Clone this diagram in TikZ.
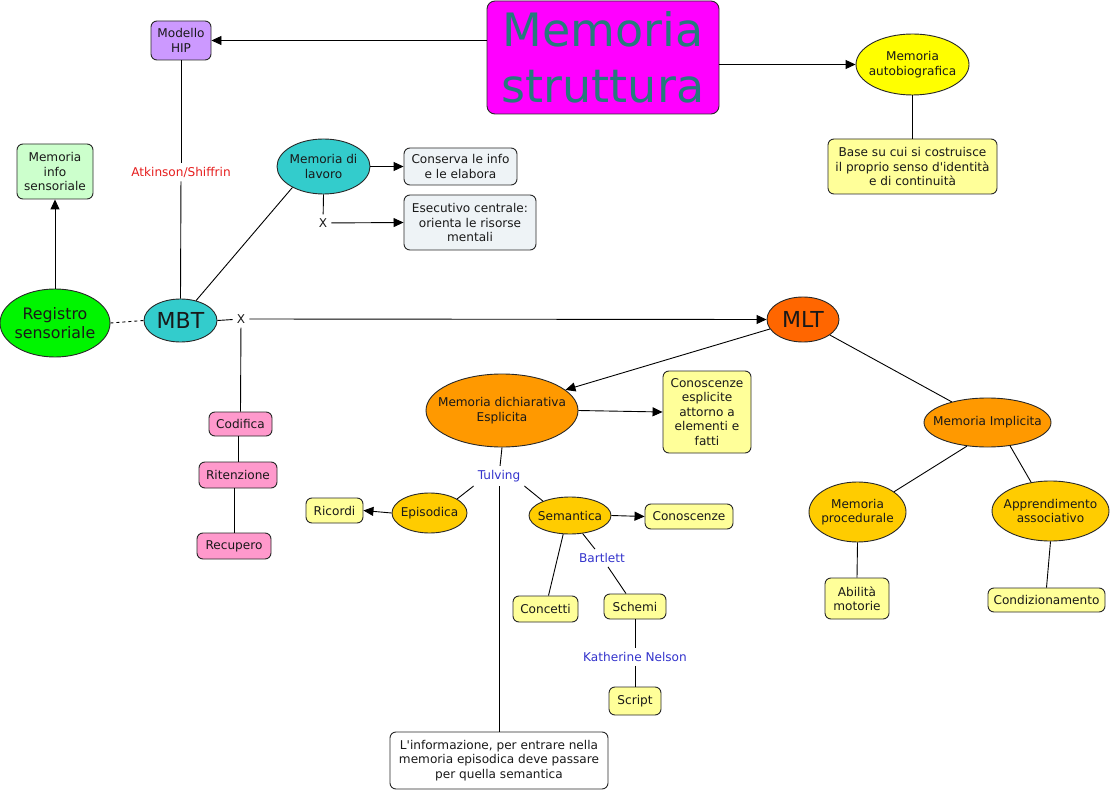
\documentclass[tikz,border=0pt]{standalone}
\usepackage{fontspec}
\setmainfont{DejaVu Sans}[Ligatures=TeXOff]
\usetikzlibrary{shapes.geometric,arrows.meta}
\definecolor{bord}{RGB}{40,40,40}
\definecolor{txtc}{RGB}{25,25,25}
\definecolor{titlec}{RGB}{38,122,124}
\definecolor{cmag}{RGB}{255,0,255}
\definecolor{chip}{RGB}{204,153,255}
\definecolor{cyel}{RGB}{255,255,0}
\definecolor{clyel}{RGB}{255,255,153}
\definecolor{clgreen}{RGB}{204,255,204}
\definecolor{cgreen}{RGB}{0,245,0}
\definecolor{cteal}{RGB}{51,204,204}
\definecolor{cgrey}{RGB}{238,243,246}
\definecolor{cpink}{RGB}{255,153,204}
\definecolor{cmlt}{RGB}{255,102,0}
\definecolor{corange}{RGB}{255,153,0}
\definecolor{cgold}{RGB}{255,204,0}
\definecolor{cred}{RGB}{230,30,30}
\definecolor{cblue}{RGB}{51,51,204}
\newcommand{\dfnt}{\fontsize{12.1}{14.5}\selectfont}
\newcommand{\ovnode}[7][\dfnt]{%
  \node[ov,fill=#6,minimum width=#4pt,minimum height=#5pt] (#2) at (#3) {};
  \node[txt,font=#1] (#2t) at (#2) {#7};}
\begin{document}
\begin{tikzpicture}[x=1pt,y=-1pt,
  box/.style={draw=bord,line width=0.9pt,rounded corners=6pt,inner sep=0pt,align=center,font=\dfnt,text=txtc},
  ov/.style={ellipse,draw=bord,line width=0.9pt,inner sep=0pt},
  txt/.style={align=center,text=txtc,inner sep=0pt},
  lbl/.style={font=\dfnt,inner sep=4pt},
  con/.style={line width=0.9pt,draw=black},
  arr/.style={con,-{Triangle[length=10pt,width=9pt]}}]
\fill[white] (0,0) rectangle (1113,791);
\useasboundingbox (0,0) rectangle (1113,791);
% boxes
\node[box,fill=cmag,minimum width=232pt,minimum height=113pt,rounded corners=8pt,
      font=\fontsize{46}{56}\selectfont,text=titlec] (title) at (603,57.5) {Memoria\\struttura};
\node[box,fill=chip,minimum width=60pt,minimum height=39pt] (hip) at (181,40.5) {Modello\\HIP};
\node[box,fill=clyel,minimum width=169pt,minimum height=55pt] (base) at (912.5,166.5) {Base su cui si costruisce\\il proprio senso d'identità\\e di continuità};
\node[box,fill=clgreen,minimum width=76pt,minimum height=55pt] (infos) at (55,171.5) {Memoria\\info\\sensoriale};
\node[box,fill=cgrey,minimum width=113pt,minimum height=37pt] (conserva) at (460.5,166.5) {Conserva le info\\e le elabora};
\node[box,fill=cgrey,minimum width=132pt,minimum height=55pt] (esec) at (470,222.5) {Esecutivo centrale:\\orienta le risorse\\mentali};
\node[box,fill=cpink,minimum width=63pt,minimum height=24pt] (codifica) at (240.5,424) {Codifica};
\node[box,fill=cpink,minimum width=78pt,minimum height=26pt] (ritenzione) at (238,475) {Ritenzione};
\node[box,fill=cpink,minimum width=74pt,minimum height=26pt] (recupero) at (234,546) {Recupero};
\node[box,fill=clyel,minimum width=88pt,minimum height=82pt] (conesp) at (707,412) {Conoscenze\\esplicite\\attorno a\\elementi e\\fatti};
\node[box,fill=clyel,minimum width=57pt,minimum height=25pt] (ricordi) at (334.5,510.5) {Ricordi};
\node[box,fill=clyel,minimum width=88pt,minimum height=25pt] (conosc) at (689,516.5) {Conoscenze};
\node[box,fill=clyel,minimum width=65pt,minimum height=26pt] (concetti) at (545.5,609) {Concetti};
\node[box,fill=clyel,minimum width=62pt,minimum height=25pt] (schemi) at (635,606.5) {Schemi};
\node[box,fill=clyel,minimum width=52pt,minimum height=28pt] (script) at (635,701) {Script};
\node[box,fill=white,minimum width=218pt,minimum height=57pt] (infobox) at (499,760.5) {L'informazione, per entrare nella\\memoria episodica deve passare\\per quella semantica};
\node[box,fill=clyel,minimum width=64pt,minimum height=41pt] (abilita) at (857,598.5) {Abilità\\motorie};
\node[box,fill=clyel,minimum width=117pt,minimum height=24pt] (condiz) at (1046.5,600) {Condizionamento};
% ovals
\ovnode{auto}{912.5,64.5}{113}{61}{cyel}{Memoria\\autobiografica}
\ovnode[\fontsize{15.8}{19}\selectfont]{reg}{55,323}{110}{68}{cgreen}{Registro\\sensoriale}
\ovnode[\fontsize{22}{26}\selectfont]{mbt}{180.5,320.5}{73}{43}{cteal}{MBT}
\ovnode{lavoro}{323.5,166.5}{93}{55}{cteal}{Memoria di\\lavoro}
\ovnode[\fontsize{22}{26}\selectfont]{mlt}{803,319.5}{72}{45}{cmlt}{MLT}
\ovnode{dich}{502,410.5}{152}{73}{corange}{Memoria dichiarativa\\Esplicita}
\ovnode{impl}{987.5,422.5}{127}{49}{corange}{Memoria Implicita}
\ovnode{epi}{429.5,513}{75}{40}{cgold}{Episodica}
\ovnode{sem}{570,515.5}{82}{37}{cgold}{Semantica}
\ovnode{proc}{857.5,512}{97}{60}{cgold}{Memoria\\procedurale}
\ovnode{appr}{1050.5,511}{117}{60}{cgold}{Apprendimento\\associativo}
% labels
\node[lbl,text=cred] (atk) at (181,172) {Atkinson/Shiffrin};
\node[lbl,text=txtc] (x1) at (241,319) {X};
\node[lbl,text=txtc] (x2) at (323,223) {X};
\node[lbl,text=cblue] (tulving) at (499,476) {Tulving};
\node[lbl,text=cblue] (bartlett) at (602,558) {Bartlett};
\node[lbl,text=cblue] (kn) at (635,657) {Katherine Nelson};
% connectors
\draw[arr] (title.west |- hip.east) -- (hip.east);
\draw[arr] (title.east |- auto.west) -- (auto.west);
\draw[con] (auto.south) -- (base.north);
\draw[arr] (reg.north) -- (infos.south);
\draw[con,dashed] (reg.east) -- (mbt.west);
\draw[con] (mbt.north) -- (atk);
\draw[con] (atk) -- (hip.south);
\draw[con] (mbt.52) -- (lavoro.214);
\draw[arr] (lavoro.east) -- (conserva.west);
\draw[con] (lavoro.south) -- (x2);
\draw[arr] (x2) -- (esec.west);
\draw[con] (mbt.east) -- (x1);
\draw[arr] (x1) -- (mlt.west);
\draw[con] (x1) -- (codifica.north);
\draw[con] (ritenzione.north |- codifica.south) -- (ritenzione.north);
\draw[con] (recupero.north |- ritenzione.south) -- (recupero.north);
\draw[arr] (mlt.196) -- (dich.18);
\draw[con] (mlt.330) -- (impl.150);
\draw[arr] (dich.east) -- (conesp.west);
\draw[con] (dich.south) -- (tulving);
\draw[con] (tulving.south west) -- (epi.27);
\draw[con] (tulving.south east) -- (sem.152);
\draw[con] (tulving.south) -- (infobox.north);
\draw[arr] (epi.west) -- (ricordi.east);
\draw[arr] (sem.east) -- (conosc.west);
\draw[con] (sem.250) -- ([xshift=3pt]concetti.north);
\draw[con] (sem.305) -- (bartlett);
\draw[con] (bartlett) -- ([xshift=-9pt]schemi.north);
\draw[con] (schemi.south) -- (kn);
\draw[con] (kn) -- (script.north);
\draw[con] (impl.229) -- (proc.29);
\draw[con] (impl.314) -- (appr.124);
\draw[con] (proc.south) -- (abilita.north);
\draw[con] (appr.south) -- (condiz.north);
\end{tikzpicture}
\end{document}
